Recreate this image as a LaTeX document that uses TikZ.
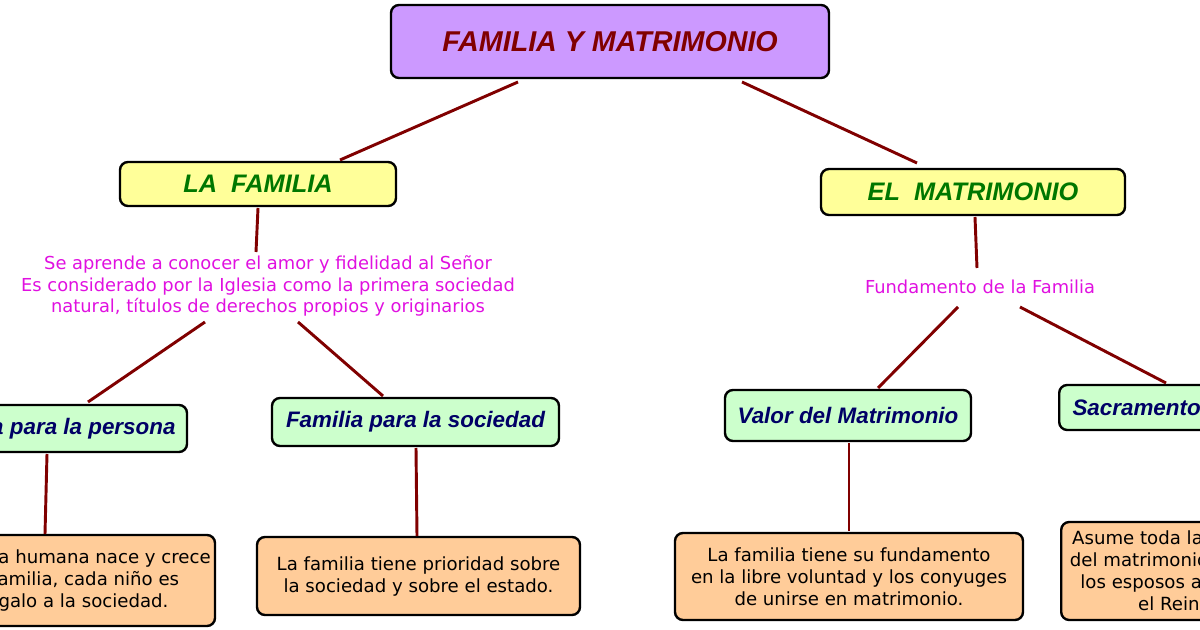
\documentclass[tikz,border=0pt]{standalone}
\usepackage{fontspec}
\setmainfont{DejaVu Sans}
\newfontfamily\hd{Liberation Sans}
\definecolor{ln}{HTML}{800000}
\definecolor{purp}{HTML}{CC99FF}
\definecolor{yel}{HTML}{FFFF99}
\definecolor{grn}{HTML}{CCFFCC}
\definecolor{ora}{HTML}{FFCC99}
\definecolor{mag}{HTML}{E010E0}
\definecolor{navy}{HTML}{000066}
\definecolor{dgreen}{HTML}{007700}
\definecolor{dred}{HTML}{800000}
\tikzset{
 bx/.style={draw=black,line width=1.8pt,rounded corners=6pt,inner sep=0pt},
 conn/.style={draw=ln,line width=2.2pt},
 lbl/.style={font=\fontsize{13.4}{16}\selectfont,text=mag,align=center},
 body/.style={font=\fontsize{13.6}{16.5}\selectfont,align=center},
}
\begin{document}
\begin{tikzpicture}[x=0.75pt,y=-0.75pt]
\useasboundingbox (0,0) rectangle (1200,630);
\clip (0,0) rectangle (1200,630);
% boxes
\node[bx,fill=purp,minimum width=438*0.75pt,minimum height=73*0.75pt,font=\hd\bfseries\itshape\fontsize{21.5}{24}\selectfont,text=dred] (top) at (610,41.5) {FAMILIA Y MATRIMONIO};
\node[bx,fill=yel,minimum width=276*0.75pt,minimum height=44*0.75pt,font=\hd\bfseries\itshape\fontsize{19}{21}\selectfont,text=dgreen] (fam) at (258,184) {LA\ \ FAMILIA};
\node[bx,fill=yel,minimum width=304*0.75pt,minimum height=46*0.75pt,font=\hd\bfseries\itshape\fontsize{19}{21}\selectfont,text=dgreen] (mat) at (973,192) {EL\ \ MATRIMONIO};
\node[lbl] (famt) at (268,286) {Se aprende a conocer el amor y fidelidad al Señor\\Es considerado por la Iglesia como la primera sociedad\\natural, títulos de derechos propios y originarios};
\node[lbl] (matt) at (980,287) {Fundamento de la Familia};
\tikzset{gh/.style={bx,fill=grn,font=\hd\bfseries\itshape\fontsize{16.8}{19}\selectfont,text=navy}}
\node[gh,minimum width=272*0.75pt,minimum height=47*0.75pt] (per) at (51,428.5) {Familia para la persona};
\node[gh,minimum width=287*0.75pt,minimum height=48*0.75pt] (soc) at (415.5,422) {Familia para la sociedad};
\node[gh,minimum width=246*0.75pt,minimum height=51*0.75pt] (val) at (848,415.5) {Valor del Matrimonio};
\node[gh,minimum width=290*0.75pt,minimum height=45*0.75pt,anchor=west] (sac) at (1058,407.5) {\hspace{10pt}Sacramento del Matrimonio\hspace{10pt}};
\tikzset{ob/.style={bx,fill=ora,body}}
\node[ob,minimum width=310*0.75pt,minimum height=91*0.75pt] (pb) at (60,580.5) {La persona humana nace y crece\\en la familia, cada niño es\\un regalo a la sociedad.};
\node[ob,minimum width=323*0.75pt,minimum height=78*0.75pt] (sb) at (418.5,576) {La familia tiene prioridad sobre\\la sociedad y sobre el estado.};
\node[ob,minimum width=348*0.75pt,minimum height=87*0.75pt] (vb) at (849,576.5) {La familia tiene su fundamento\\en la libre voluntad y los conyuges\\de unirse en matrimonio.};
\node[ob,minimum width=232*0.75pt,minimum height=98*0.75pt,anchor=west] (sb2) at (1060,571) {Asume toda la realidad\\del matrimonio natural,\\los esposos anuncian\\el Reino.};
% connectors
\coordinate (a1) at (518,82); \coordinate (a2) at (340,160);
\coordinate (b1) at (742,82); \coordinate (b2) at (917,163);
\draw[conn] (a1) -- (a2); \draw[conn] (b1) -- (b2);
\coordinate (c1) at (258,208); \coordinate (c2) at (256,252);
\draw[conn] (c1) -- (c2);
\coordinate (d1) at (205,322); \coordinate (d2) at (88,402);
\coordinate (e1) at (298,322); \coordinate (e2) at (383,396);
\draw[conn] (d1) -- (d2); \draw[conn] (e1) -- (e2);
\coordinate (f1) at (47,454); \coordinate (f2) at (45,534);
\coordinate (g1) at (416,448); \coordinate (g2) at (417,536);
\draw[conn] (f1) -- (f2); \draw[conn] (g1) -- (g2);
\coordinate (h1) at (975,217); \coordinate (h2) at (977,268);
\draw[conn] (h1) -- (h2);
\coordinate (i1) at (958,307); \coordinate (i2) at (878,388);
\coordinate (j1) at (1020,307); \coordinate (j2) at (1166,383);
\draw[conn] (i1) -- (i2); \draw[conn] (j1) -- (j2);
\coordinate (k1) at (849,443); \coordinate (k2) at (849,531);
\draw[conn] (k1) -- (k2);
\end{tikzpicture}
\end{document}
